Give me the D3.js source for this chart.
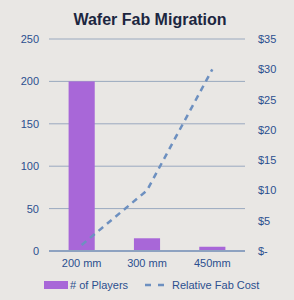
<!DOCTYPE html>
<html>
<head>
<meta charset="utf-8">
<script src="https://cdn.jsdelivr.net/npm/d3@7"></script>
<style>
  body { margin: 0; background: #e9e7e4; }
  svg { font-family: "Liberation Sans", Arial, sans-serif; }
</style>
</head>
<body>
<div id="chart"></div>
<script>
// dữ liệu
const categories = ["200 mm", "300 mm", "450mm"];
const players = [200, 15, 5];
const fabCost = [1, 10, 30];
const leftTicks = [0, 50, 100, 150, 200, 250];
const rightTicks = [0, 5, 10, 15, 20, 25, 30, 35];

const W = 294, H = 300;
const margin = { top: 39, right: 49, bottom: 49, left: 49 };
const width = W - margin.left - margin.right;
const height = H - margin.top - margin.bottom;

const svg = d3.select("#chart").append("svg")
    .attr("width", W).attr("height", H)
    .style("background", "#e9e7e4");

const g = svg.append("g").attr("transform", `translate(${margin.left},${margin.top})`);

const x = d3.scaleBand().domain(categories).range([0, width]).paddingInner(0.6).paddingOuter(0.3);
const xC = d3.scaleBand().domain(categories).range([0, width]); // tâm mỗi nhóm
const y = d3.scaleLinear().domain([0, 250]).range([height, 0]);
const y2 = d3.scaleLinear().domain([0, 35]).range([height, 0]);

const textColor = "#2c4f8f";

// lưới ngang
g.selectAll(".grid").data(leftTicks.filter(d => d > 0)).join("line")
    .attr("x1", 0).attr("x2", width)
    .attr("y1", d => y(d)).attr("y2", d => y(d))
    .attr("stroke", "#9aa9bf").attr("stroke-width", 1);

// trục trái
const axL = g.append("g")
    .call(d3.axisLeft(y).tickValues(leftTicks).tickSize(0).tickPadding(10));
axL.select(".domain").remove();
axL.selectAll("text").style("font-size", "11px").attr("fill", textColor);

// trục phải
const axR = g.append("g").attr("transform", `translate(${width},0)`)
    .call(d3.axisRight(y2).tickValues(rightTicks).tickSize(0).tickPadding(13)
        .tickFormat(d => d === 0 ? "$-" : "$" + d));
axR.select(".domain").remove();
axR.selectAll("text").style("font-size", "11px").attr("fill", textColor);

// cột
g.selectAll(".bar").data(categories).join("rect")
    .attr("x", d => x(d))
    .attr("y", (d, i) => y(players[i]))
    .attr("width", x.bandwidth())
    .attr("height", (d, i) => height - y(players[i]))
    .attr("fill", "#a867d8");

// đường đứt nét
const line = d3.line()
    .x((d, i) => xC(categories[i]) + xC.bandwidth() / 2)
    .y(d => y2(d));
g.append("path").datum(fabCost)
    .attr("d", line)
    .attr("fill", "none")
    .attr("stroke", "#6d90c0")
    .attr("stroke-width", 2.5)
    .attr("stroke-dasharray", "6,5");

// trục x
g.append("line").attr("x1", 0).attr("x2", width).attr("y1", height).attr("y2", height)
    .attr("stroke", "#8ea2c0").attr("stroke-width", 2);
const axB = g.append("g").attr("transform", `translate(0,${height})`)
    .call(d3.axisBottom(xC).tickSize(0).tickPadding(8));
axB.select(".domain").remove();
axB.selectAll("text").style("font-size", "11px").attr("fill", textColor);

// tiêu đề
svg.append("text")
    .attr("x", 150).attr("y", 25)
    .attr("text-anchor", "middle")
    .style("font-size", "16px").style("font-weight", "bold")
    .attr("fill", "#1c2640")
    .text("Wafer Fab Migration");

// chú thích
const lg = svg.append("g").attr("transform", "translate(0,285)");
lg.append("rect").attr("x", 44).attr("y", -4).attr("width", 24).attr("height", 8).attr("fill", "#a867d8");
lg.append("text").attr("x", 70).attr("y", 4).style("font-size", "11px").attr("fill", textColor).text("# of Players");
lg.append("line").attr("x1", 145).attr("x2", 166).attr("y1", 0).attr("y2", 0)
    .attr("stroke", "#6d90c0").attr("stroke-width", 2.5).attr("stroke-dasharray", "6,7");
lg.append("text").attr("x", 172).attr("y", 4).style("font-size", "11px").attr("fill", textColor).text("Relative Fab Cost");
</script>
</body>
</html>
